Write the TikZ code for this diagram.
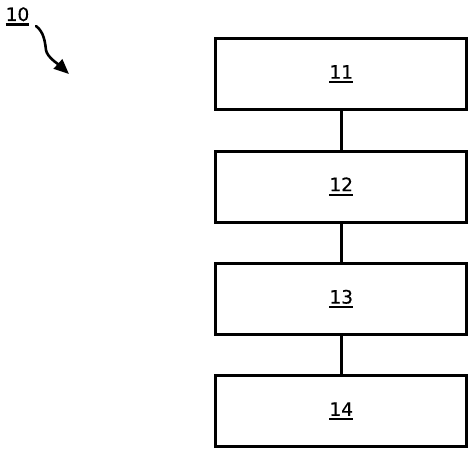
\documentclass[tikz,border=0pt]{standalone}
\usepackage{fontspec}
\setmainfont{DejaVu Sans}
\newfontfamily\numfont{DejaVu Sans}[FakeBold=0.6]
\usetikzlibrary{arrows.meta}
\newcommand\myul[1]{\setbox0\hbox{#1}\rlap{\rule[-4.6pt]{\wd0}{2.1pt}}\box0}
\tikzset{
  blockbox/.style={draw, line width=3pt, minimum width=251pt, minimum height=71pt, inner sep=0pt, font=\numfont\fontsize{18.5}{22}\selectfont},
  link/.style={line width=2.8pt},
  reflabel/.style={inner sep=0pt, font=\numfont\fontsize{18.5}{22}\selectfont, anchor=base}
}
\begin{document}
\begin{tikzpicture}[x=1pt,y=-1pt]
\useasboundingbox (0,0) rectangle (474,454);
\node[blockbox] (b1) at (341.25,74.2) {\myul{11}};
\node[blockbox] (b2) at (341.25,186.6) {\myul{12}};
\node[blockbox] (b3) at (341.25,299) {\myul{13}};
\node[blockbox] (b4) at (341.25,411.4) {\myul{14}};
\draw[link] (b1.south) -- (b2.north);
\draw[link] (b2.south) -- (b3.north);
\draw[link] (b3.south) -- (b4.north);
\node[reflabel] (lbl) at (17.5,21) {\myul{10}};
\coordinate (arrstart) at (36,26);
\coordinate (arrend) at (69,74);
\draw[line width=2.6pt, line cap=round, -{Triangle[length=15pt,width=12.5pt]}] (arrstart) .. controls (44,32) and (45,42) .. (46,50) .. controls (47,57) and (58,64) .. (arrend);
\end{tikzpicture}
\end{document}
